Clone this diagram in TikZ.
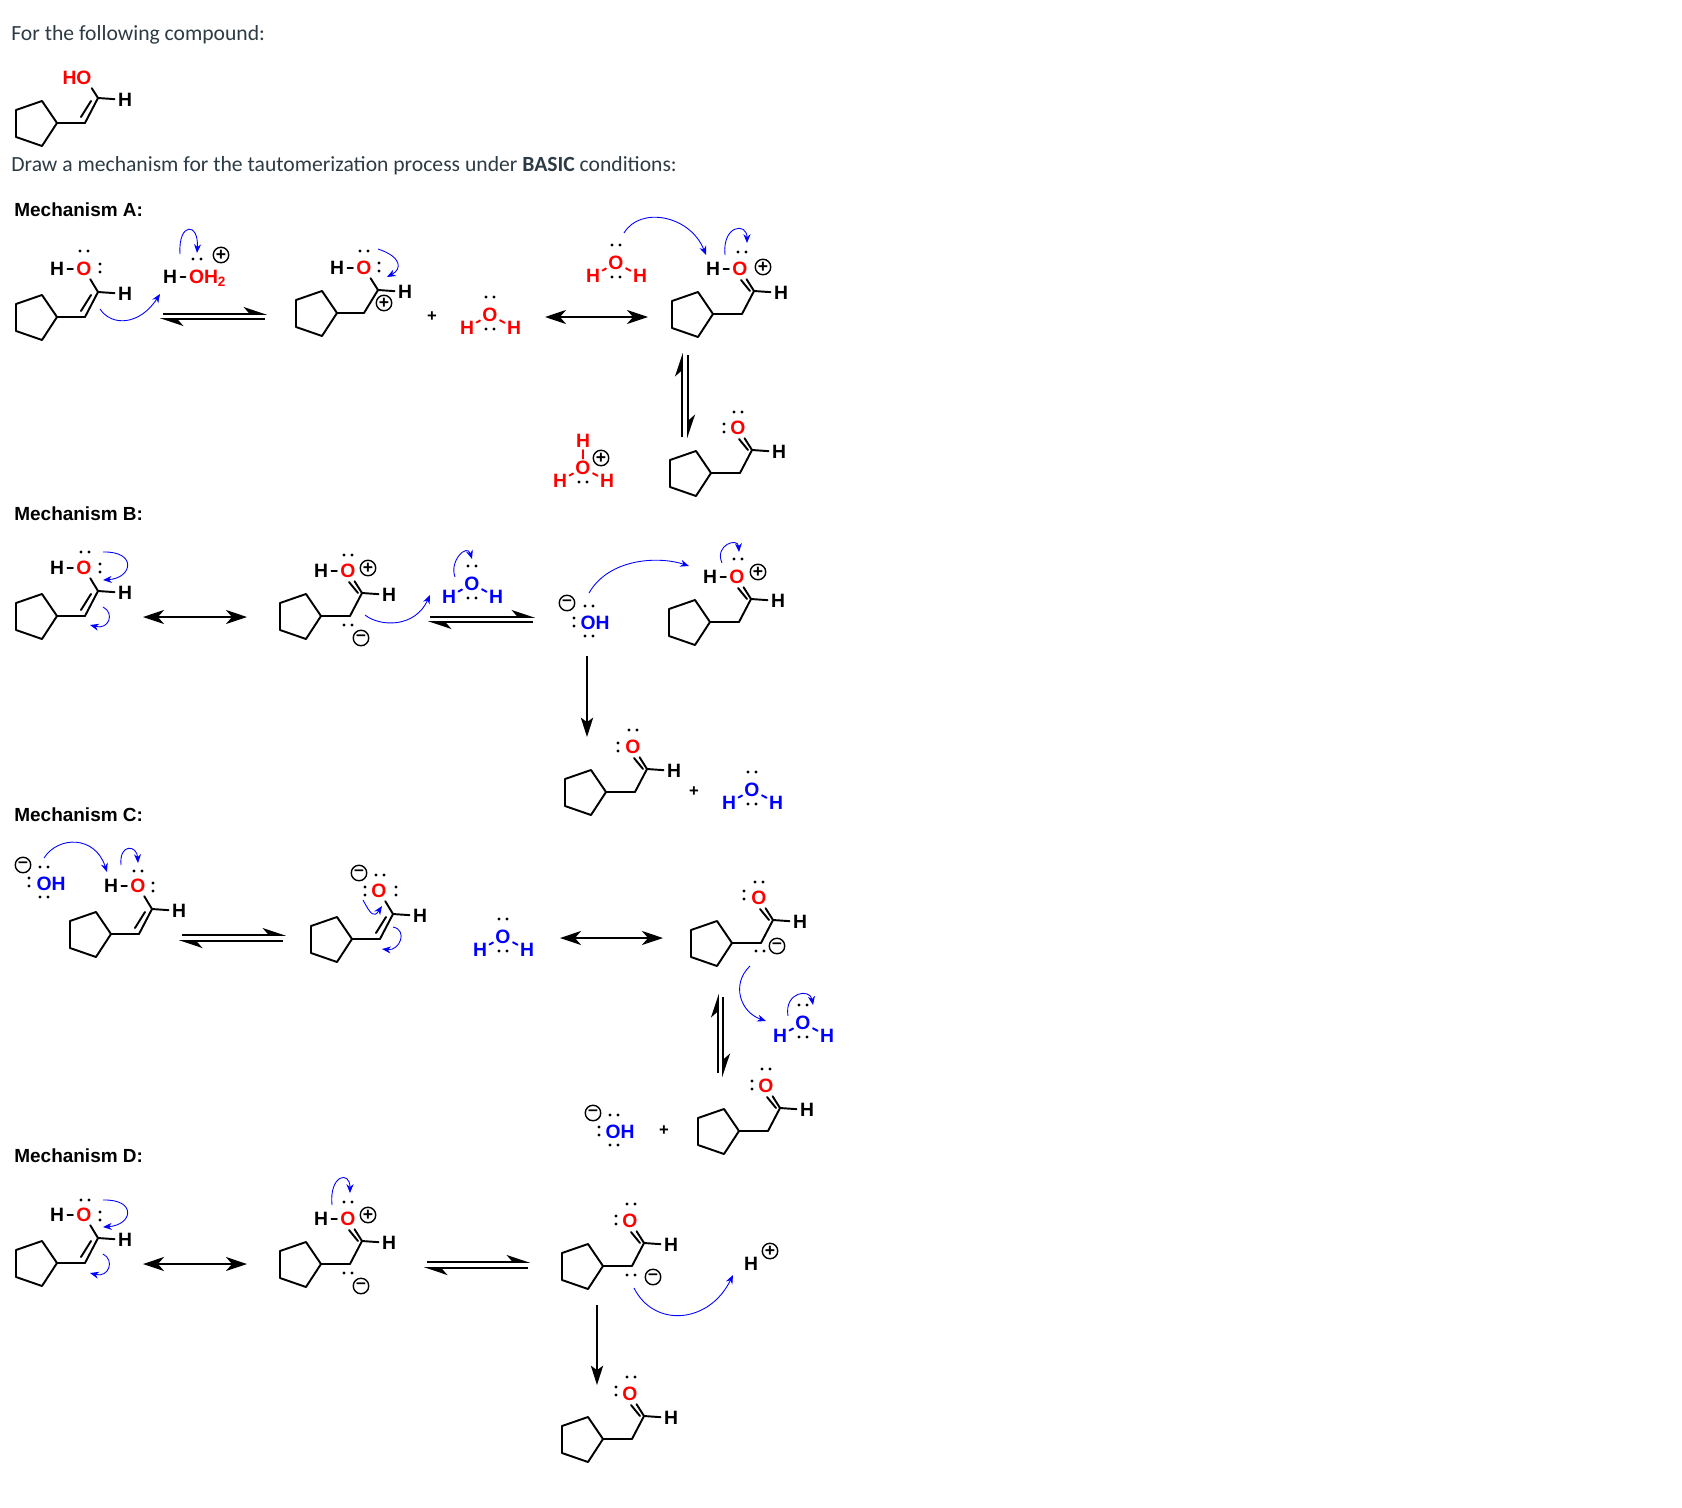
\documentclass[tikz,border=0pt]{standalone}
\usepackage{fontspec}
\setmainfont{Carlito}
\newfontfamily\atomfont{Liberation Sans}
\usetikzlibrary{arrows.meta, positioning}
\definecolor{prose}{HTML}{2D3B45}
\tikzset{
    bond/.style={line width=1.1pt, line cap=round, line join=round},
    atom/.style={font=\atomfont\bfseries\fontsize{11}{12}\selectfont, inner sep=1.8pt, yshift=-.5pt},
    oxy/.style={atom, text=red},
    small atom/.style={atom, inner sep=1.2pt},
    plus sign/.style={atom, font=\atomfont\bfseries\fontsize{9.5}{10}\selectfont},
    chg/.style={draw, circle, line width=.8pt, minimum size=.31cm, inner sep=0pt, font=\atomfont\bfseries\fontsize{10}{10}\selectfont},
    prose/.style={anchor=west, inner sep=0pt, text=prose, font=\fontsize{12.31}{14}\selectfont},
    heading/.style={anchor=west, inner sep=0pt, font=\atomfont\bfseries\fontsize{10.8}{13}\selectfont},
    curly/.style={blue, line width=.5pt, -{Stealth[length=5pt, width=4pt]}},
    resarrow/.style={line width=.9pt, {Stealth[length=12pt, width=8pt, inset=3.5pt]}-{Stealth[length=12pt, width=8pt, inset=3.5pt]}},
    eqarrow/.style={line width=.9pt, -{Stealth[harpoon, length=12pt, width=8pt, inset=3.5pt]}},
    fwdarrow/.style={line width=.9pt, -{Stealth[length=11pt, width=7pt, inset=2.5pt]}},
    cyclo/.pic={\draw[bond] (0,0) -- (-15,-22) -- (-41,-13) -- (-41,14) -- (-15,23) -- cycle;},
    enolskel/.pic={
        \coordinate (C) at (0,0);
        \node[atom] (H) at (27,1) {H};
        \draw[bond] (-41,25) -- (-13,25) -- (C) -- (H);
        \draw[bond] (-17,19) -- (-7,3);
        \pic at (-41,25) {cyclo};
    },
    enol/.pic={
        \pic {enolskel};
        \node[oxy] (O) at (-14,-24) {O};
        \draw[bond] (C) -- (O);
    },
    keto/.pic={
        \coordinate (C) at (0,0);
        \node[atom] (H) at (27,1) {H};
        \node[oxy] (O) at (-14,-23) {O};
        \draw[bond] (-41,23) -- (-12,23) -- (C) -- (H);
        \draw[bond] (C) -- (O);
        \draw[bond] (-13,-11) -- (-4,0);
        \pic at (-41,23) {cyclo};
    },
    cation/.pic={
        \coordinate (C) at (0,0);
        \node[atom] (H) at (27,1) {H};
        \node[oxy] (O) at (-14,-23) {O};
        \draw[bond] (-41,23) -- (-14,23) -- (C) -- (H);
        \draw[bond] (C) -- (O);
        \pic at (-41,23) {cyclo};
    },
    hydronium/.pic={
        \node[small atom] (O) at (0,0) {O};
        \node[small atom] (HL) at (-23,13) {H};
        \node[small atom] (HR) at (24,13) {H};
        \draw[bond] (HL) -- (O) -- (HR);
        \foreach \x in {-4,4}{
            \fill[black] (\x,15) circle (1.7);
        }
    },
    water/.pic={
        \pic {hydronium};
        \foreach \x in {-4,4}{
            \fill[black] (\x,-17) circle (1.7);
        }
    },
}
\begin{document}
\begin{tikzpicture}[x=0.02cm, y=-0.02cm]
    \useasboundingbox (0,0) rectangle (1682,1507);
    \node[prose] (intro) at (11,35) {For the following compound:};
    \node[prose] (task) at (11,166) {Draw a mechanism for the tautomerization process under \textbf{BASIC} conditions:};
    \node[heading] (mechA) at (14,210) {Mechanism A:};
    \node[heading] (mechB) at (14,514) {Mechanism B:};
    \node[heading] (mechC) at (14,815) {Mechanism C:};
    \node[heading] (mechD) at (14,1156) {Mechanism D:};

    \pic (top) at (98,98) {enolskel};
    \node[oxy] (topHO) at (77,77) {HO};
    \draw[bond] (topC) -- (topHO.-35);

    \pic (a1) at (98,292) {enol};
    \pic (a2) at (378,290) {cation};
    \pic (a3) at (754,291) {keto};
    \pic (a4) at (752,450) {keto};
    \pic (b1) at (98,591) {enol};
    \pic (b2) at (362,593) {keto};
    \pic (b3) at (751,599) {keto};
    \pic (b4) at (647,769) {keto};
    \pic (c1) at (152,909) {enol};
    \pic (c2) at (393,914) {enol};
    \pic (c3) at (773,920) {keto};
    \pic (c4) at (780,1108) {keto};
    \pic (d1) at (98,1238) {enol};
    \pic (d2) at (362,1241) {keto};
    \pic (d3) at (644,1243) {keto};
    \pic (d4) at (644,1416) {keto};
    \foreach \m in {a1,a2,a3,b1,b2,b3,c1,d1,d2}{
        \node[atom, yshift=.5pt] (\m Hb) [left=0.11cm of \m O] {H};
        \draw[bond] (\m Hb) -- (\m O);
    }

    \pic[red] (wa1) at (490,314) {water};
    \pic[red] (wa2) at (616,262) {water};
    \pic[red] (wa3) at (583,467) {hydronium};
    \node[small atom, red] (wa3Ht) at (583,440) {H};
    \draw[bond, red] (wa3Ht) -- (wa3O);
    \pic[blue] (wb1) at (472,583) {water};
    \pic[blue] (wb2) at (752,789) {water};
    \pic[blue] (wc1) at (503,936) {water};
    \pic[blue] (wc2) at (803,1022) {water};

    \node[atom] (hyd1) at (170,276) {H};
    \node[oxy, text depth=0pt, right=0.1cm of hyd1, yshift=.5pt] (hyd1O) {OH\textsubscript{2}};
    \draw[bond] (hyd1) -- (hyd1O);
    \node[atom, blue] (ohB) at (595,622) {OH};
    \node[atom, blue] (ohC1) at (51,883) {OH};
    \node[atom, blue] (ohC2) at (620,1131) {OH};
    \node[atom] (proton) at (751,1263) {H};

    \node[plus sign] (plusA) at (432,316) {+};
    \node[plus sign] (plusB) at (694,791) {+};
    \node[plus sign] (plusC) at (664,1130) {+};

    \foreach \x/\y in {84/251,197/259,364/251,742/252,738/412,85/552,348/555,738/559,633/730,589/606,589/636,348/625,44/867,44/897,138/871,380/875,759/882,760/951,766/1069,614/1115,614/1145,85/1200,348/1202,348/1273,631/1204,631/1275,631/1377}{
        \fill (\x-4,\y) circle (1.7);
        \fill (\x+4,\y) circle (1.7);
    }
    \foreach \x/\y in {100/268,379/267,724/428,100/568,574/622,618/747,29/882,153/887,365/891,396/891,744/895,752/1085,599/1131,100/1216,616/1220,616/1391}{
        \fill (\x,\y-4) circle (1.7);
        \fill (\x,\y+4) circle (1.7);
    }

    \foreach \n/\x/\y in {p1/221/255,p2/384/303,p3/763/267,p4/601/458,p5/368/568,p6/758/572,p7/368/1215,p8/770/1251}{
        \node[chg] (\n) at (\x,\y) {+};
    }
    \foreach \n/\x/\y in {m1/361/638,m2/567/603,m3/23/865,m4/359/873,m5/777/946,m6/593/1113,m7/361/1286,m8/653/1277}{
        \node[chg] (\n) at (\x,\y) {\textendash};
    }

    \foreach \n/\ax/\ay/\bx/\by/\kind in {
        ra/545/317/648/317/resarrow, rb/143/617/247/617/resarrow, rc/560/938/663/938/resarrow, rd/143/1264/247/1264/resarrow,
        ea1/163/314/267/314/eqarrow, ea2/265/319/160/319/eqarrow, ea3/682/437/682/353/eqarrow, ea4/688/355/688/438/eqarrow,
        eb1/430/617/535/617/eqarrow, eb2/533/622/428/622/eqarrow,
        ec1/182/935/286/935/eqarrow, ec2/283/941/179/941/eqarrow, ec3/718/1073/718/994/eqarrow, ec4/723/997/723/1077/eqarrow,
        ed1/427/1262/530/1262/eqarrow, ed2/528/1268/424/1268/eqarrow,
        fb/587/656/587/737/fwdarrow, fd/597/1305/597/1385/fwdarrow}{
        \coordinate (\n a) at (\ax,\ay);
        \coordinate (\n b) at (\bx,\by);
        \draw[\kind] (\n a) -- (\n b);
    }

    \foreach \n/\sx/\sy/\ex/\ey/\ax/\ay/\bx/\by in {
        ca1/100/309/160/294/12/18/-20/31, ca2/180/254/197/253/-2/-32/2/-31, ca3/378/249/387/277/24/8/15/-8,
        ca4/624/233/706/255/16/-27/-16/-40, ca5/725/255/747/243/-3/-30/0/-21,
        cb1/103/552/103/580/34/-1/30/-2, cb2/103/607/90/625/12/6/19/5, cb3/365/615/430/595/15/12/-15/33,
        cb4/455/577/472/559/-6/-16/-5/-16, cb5/589/593/689/566/20/-35/-30/-10, cb6/722/563/739/552/-8/-18/-1/-15,
        cc1/44/858/107/872/14/-22/-12/-37, cc2/121/865/138/863/-2/-22/-1/-18, cc3/363/900/382/906/8/15/-8/12,
        cc4/393/927/382/949/15/3/18/2, cc5/750/966/766/1021/-19/18/-26/-9, cc6/788/1016/813/1005/-4/-24/-3/-17,
        cd1/103/1200/103/1227/34/-1/30/-2, cd2/103/1254/90/1273/12/6/19/5, cd3/332/1205/350/1193/-3/-30/0/-23,
        cd4/634/1288/733/1275/20/40/-24/49}{
        \coordinate (\n s) at (\sx,\sy);
        \coordinate (\n e) at (\ex,\ey);
        \draw[curly] (\n s) .. controls +(\ax,\ay) and +(\bx,\by) .. (\n e);
    }
\end{tikzpicture}
\end{document}
